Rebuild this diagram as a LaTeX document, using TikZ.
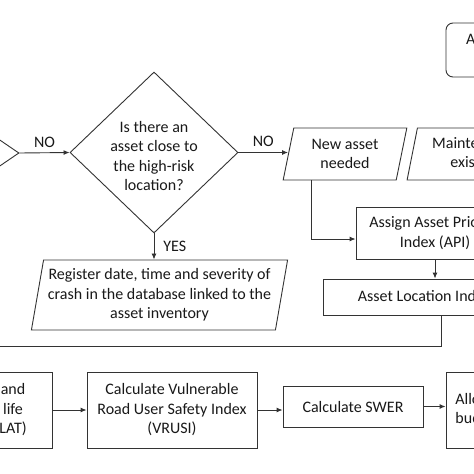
\documentclass[tikz,border=0pt]{standalone}
\usepackage{fontspec}
\setmainfont{Carlito}
\usetikzlibrary{shapes.geometric,arrows.meta}
\begin{document}
\begin{tikzpicture}[x=1pt,y=-1pt,
  font=\fontsize{16}{19.5}\selectfont,
  text=black!90,
  ln/.style={line width=0.9pt, draw=black!80},
  arr/.style={ln,-{Latex[length=6pt,width=5pt]}},
  box/.style={draw=black!80, line width=0.9pt, rectangle, inner sep=0pt, align=center},
  rbox/.style={box, rounded corners=7pt},
  dia/.style={draw=black!80, line width=0.9pt, diamond, inner sep=0pt},
  para/.style={draw=black!80, line width=0.9pt, trapezium, trapezium left angle=77,
    trapezium right angle=103, trapezium stretches=true, inner xsep=0pt, inner ysep=0pt, align=center},
  lbl/.style={inner sep=0pt}
]
\useasboundingbox (0,0) rectangle (474,474);
\fill[white] (0,0) rectangle (474,474);
\clip (0,0) rectangle (474,474);

% top right
\node[rbox, minimum width=166pt, minimum height=54pt] (sys) at (529,50) {Asset Management\\System};

% decisions
\node[dia, minimum width=158pt, minimum height=108pt] (prev) at (-60,153) {};
\node[dia, minimum width=168pt, minimum height=161pt] (q) at (154,152.5) {};
\node[align=center, inner sep=0pt] (qt) at (154,156) {Is there an\\asset close to\\the high-risk\\location?};

% parallelograms
\node[para, minimum width=124pt, minimum height=52pt] (na) at (345,154) {New asset\\needed};
\node[para, minimum width=136pt, minimum height=52pt] (mt) at (475,154) {Maintenance\\existing};
\node[para, minimum width=257pt, minimum height=70pt, trapezium left angle=77.5,
  trapezium right angle=102.5] (reg) at (159.5,295)
  {Register date, time and severity of\\crash in the database linked to the\\asset inventory};

% process boxes
\node[box, minimum width=158pt, minimum height=52pt] (api) at (435,233) {Assign Asset Priority\\Index (API)};
\node[box, minimum width=236pt, minimum height=36pt] (ali) at (441,297) {Asset Location Index (ALI)};

\node[box, minimum width=170pt, minimum height=76pt] (b1) at (-33,410) {};
\node[align=center, inner sep=0pt] (b1t) at (13,410) {and\\life\\LAT)};
\node[box, minimum width=170pt, minimum height=76pt] (b2) at (172,410) {Calculate Vulnerable\\Road User Safety Index\\(VRUSI)};
\node[box, minimum width=140pt, minimum height=41pt] (b3) at (353,406.5) {Calculate SWER};
\node[box, minimum width=71pt, minimum height=76pt] (b4) at (481.5,410) {Allocate\\budgets};

\coordinate (cL) at (-10,346);

% connectors
\draw[arr] (prev.east) -- node[above, inner sep=5pt] {NO} (q.west);
\draw[arr] (q.east) -- node[above, inner sep=5pt] {NO} (q.east -| na.west);
\draw[arr] (q.south) -- node[right, inner sep=9pt] {YES} (q.south |- reg.north);
\draw[arr] ([xshift=29pt]na.bottom left corner) |- ([yshift=-6pt]api.west);
\draw[arr] (api.south) -- (api.south |- ali.north);
\draw[ln] (ali.south) |- (cL);
\draw[arr] (b1.east) -- (b2.west);
\draw[arr] (b2.east) -- (b2.east -| b3.west);
\draw[arr] (b3.east) -- (b3.east -| b4.west);
\end{tikzpicture}
\end{document}
